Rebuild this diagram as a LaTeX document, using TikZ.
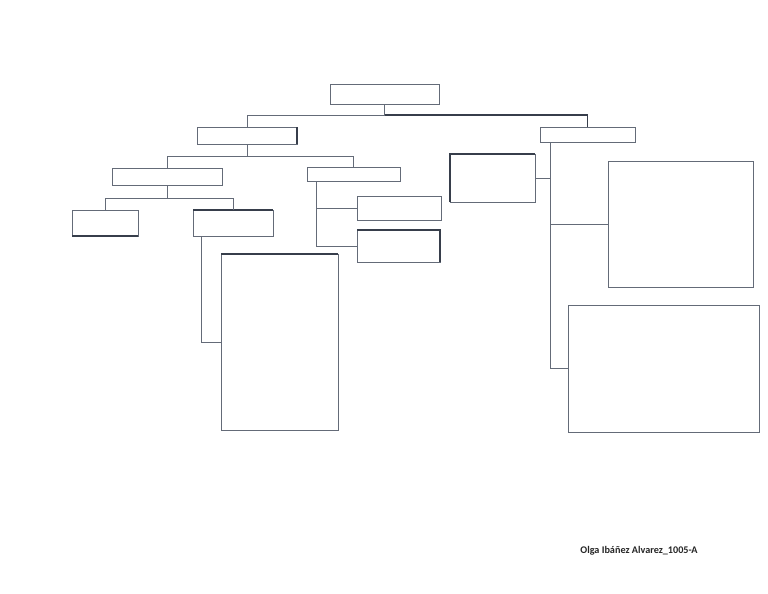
\documentclass[tikz,border=0pt]{standalone}
\usepackage{fontspec}
\setmainfont{Carlito}
\definecolor{linegray}{RGB}{100,107,120}
\definecolor{darkline}{RGB}{55,62,75}
\begin{document}
\begin{tikzpicture}[x=1pt,y=-1pt,
  box/.style={draw=linegray,line width=0.9pt,fill=white,inner sep=0pt,outer sep=0pt,rectangle},
  link/.style={draw=linegray,line width=0.9pt},
  darkedge/.style={draw=darkline,line width=1.2pt},
  author/.style={font=\bfseries\fontsize{10.2}{12}\selectfont,text=black!85,inner sep=0pt}]
\useasboundingbox[fill=white] (0,0) rectangle (768,594);
% boxes
\node[box,minimum width=109pt,minimum height=20pt] (root) at (384.5,94) {};
\node[box,minimum width=100pt,minimum height=17pt] (L1) at (247,135.5) {};
\node[box,minimum width=95pt,minimum height=15pt] (R1) at (587.5,134.5) {};
\node[box,minimum width=110pt,minimum height=17pt] (L2a) at (167,176.5) {};
\node[box,minimum width=93pt,minimum height=14pt] (L2b) at (353.5,174) {};
\node[box,minimum width=66pt,minimum height=26pt] (L3a) at (105,223) {};
\node[box,minimum width=80pt,minimum height=26pt] (L3b) at (233,223) {};
\node[box,minimum width=117pt,minimum height=176pt] (Big) at (279.5,342) {};
\node[box,minimum width=84pt,minimum height=24pt] (B1) at (399,208) {};
\node[box,minimum width=83pt,minimum height=32pt] (B2) at (398.5,246) {};
\node[box,minimum width=85pt,minimum height=48pt] (RL) at (492.5,178) {};
\node[box,minimum width=145pt,minimum height=126pt] (RT) at (680.5,224) {};
\node[box,minimum width=191pt,minimum height=127pt] (RB) at (663.5,368.5) {};
% darker edges
\draw[darkedge] (L1.north east) -- (L1.south east);
\draw[darkedge] (L3a.south west) -- (L3a.south east);
\draw[darkedge] (L3b.north west) -- (L3b.north east);
\draw[darkedge] (RL.south west) -- (RL.north west) -- (RL.north east);
\draw[darkedge] (B2.north west) -- (B2.north east) -- (B2.south east);
\draw[darkedge] (Big.north west) -- (Big.north east);
% connectors
\coordinate (j0) at (root.south |- 0,115);
\draw[link] (root.south) -- (j0) -| (L1.north);
\draw[darkedge] (j0) -| (R1.north);
\coordinate (j1) at (L1.south |- 0,156);
\draw[link] (L1.south) -- (j1) -| (L2a.north);
\draw[link] (j1) -| (L2b.north);
\coordinate (j2) at (L2a.south |- 0,198);
\draw[link] (L2a.south) -- (j2) -| (L3a.north);
\draw[link] (j2) -| (L3b.north);
\draw[link] ([xshift=8pt]L3b.south west) |- (Big.west);
\draw[link] ([xshift=9pt]L2b.south west) |- (B1.west);
\draw[link] ([xshift=9pt]L2b.south west) |- (B2.west);
\draw[link] ([xshift=10pt]R1.south west) |- (RL.east);
\draw[link] ([xshift=10pt]R1.south west) |- (RT.west);
\draw[link] ([xshift=10pt]R1.south west) |- (RB.west);
% author
\node[author] (name) at (639,551) {Olga Ibáñez Alvarez\_1005-A};
\end{tikzpicture}
\end{document}
